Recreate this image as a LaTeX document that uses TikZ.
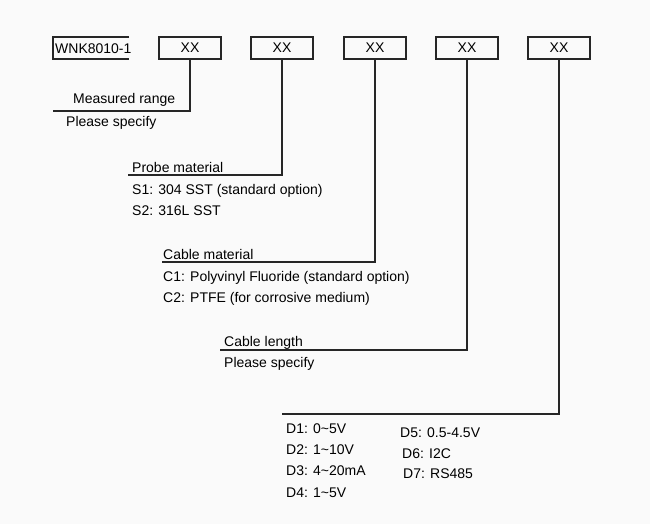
\documentclass[tikz,border=0pt]{standalone}
\usepackage{fontspec}
\setmainfont{Liberation Sans}
\begin{document}
\begin{tikzpicture}[x=1pt,y=-1pt,
  codebox/.style={draw=black!85,line width=1.8pt,minimum width=62pt,minimum height=22pt,inner sep=0pt,font=\fontsize{14}{16}\selectfont},
  lbl/.style={anchor=base west,inner sep=0pt,font=\fontsize{14}{16}\selectfont},
  lead/.style={draw=black!85,line width=1.8pt}]
\useasboundingbox[fill=black!2] (0,0) rectangle (650,524);
% prefix
\node[lbl] (wnk) at (55,54) {WNK8010-1};
\coordinate (wtl) at (53,37); \coordinate (wtr) at (129,37);
\coordinate (wbl) at (53,59); \coordinate (wbr) at (129,59);
\draw[lead] (wtr) -- (wtl) -- (wbl) -- (wbr);
% boxes
\node[codebox] (b1) at (190,48) {XX};
\node[codebox] (b2) at (282,48) {XX};
\node[codebox] (b3) at (375,48) {XX};
\node[codebox] (b4) at (467,48) {XX};
\node[codebox] (b5) at (559,48) {XX};
% corners and ends
\coordinate (c1) at (190,111); \coordinate (e1) at (53,111);
\coordinate (c2) at (282,175); \coordinate (e2) at (128,175);
\coordinate (c3) at (375,262); \coordinate (e3) at (162,262);
\coordinate (c4) at (467,350); \coordinate (e4) at (220,350);
\coordinate (c5) at (559,414); \coordinate (e5) at (282,414);
\draw[lead] (b1.south) -- (c1) -- (e1);
\draw[lead] (b2.south) -- (c2) -- (e2);
\draw[lead] (b3.south) -- (c3) -- (e3);
\draw[lead] (b4.south) -- (c4) -- (e4);
\draw[lead] (b5.south) -- (c5) -- (e5);
% labels
\node[lbl] (t1) at (73,103) {Measured range};
\node[lbl] (t1a) at (66,126) {Please specify};
\node[lbl] (t2) at (132,172) {Probe material};
\node[lbl] (t2a) at (132,194) {S1: 304 SST (standard option)};
\node[lbl] (t2b) at (132,215) {S2: 316L SST};
\node[lbl] (t3) at (163,259) {Cable material};
\node[lbl] (t3a) at (163,281) {C1: Polyvinyl Fluoride (standard option)};
\node[lbl] (t3b) at (163,302) {C2: PTFE (for corrosive medium)};
\node[lbl] (t4) at (224,346) {Cable length};
\node[lbl] (t4a) at (224,367) {Please specify};
\node[lbl] (d1) at (286,433) {D1: 0\char`~5V};
\node[lbl] (d2) at (286,454) {D2: 1\char`~10V};
\node[lbl] (d3) at (286,475) {D3: 4\char`~20mA};
\node[lbl] (d4) at (286,497) {D4: 1\char`~5V};
\node[lbl] (d5) at (400,437) {D5: 0.5-4.5V};
\node[lbl] (d6) at (402,458) {D6: I2C};
\node[lbl] (d7) at (403,478) {D7: RS485};
\end{tikzpicture}
\end{document}
